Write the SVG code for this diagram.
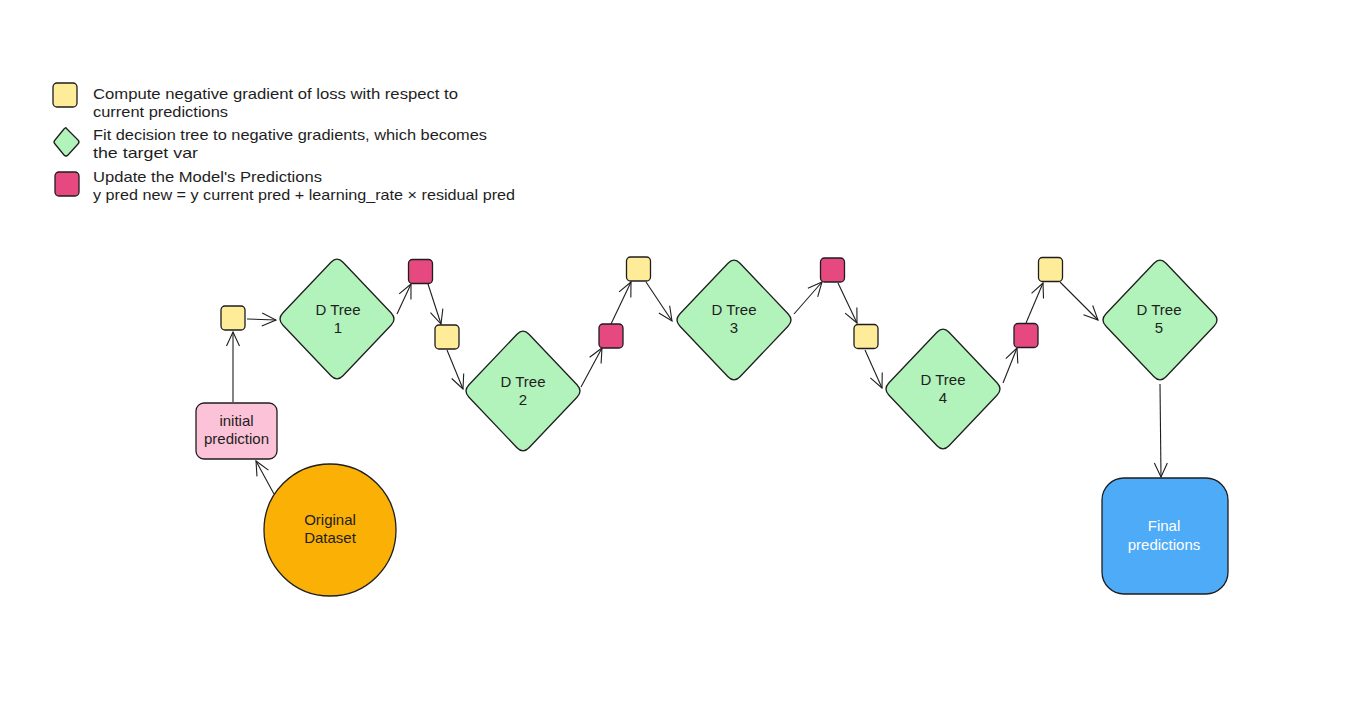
<svg xmlns="http://www.w3.org/2000/svg" xmlns:xlink="http://www.w3.org/1999/xlink" width="1358" height="721" viewBox="0 0 1358 721">
<style>
  text { font-family: "Liberation Sans", "DejaVu Sans", sans-serif; fill: #1e1e1e; }
  .legend { font-size: 15px; }
  .lbl { font-size: 15px; text-anchor: middle; }
  .white { fill: #ffffff; }
  .outline { stroke: #1e1e1e; stroke-width: 1.3; stroke-linejoin: round; }
  .yellow { fill: #ffec99; }
  .green { fill: #b2f2bb; }
  .pink { fill: #e64980; }
  .lightpink { fill: #fcc2d7; }
  .orange { fill: #fab005; }
  .blue { fill: #4dabf7; }
  .conn line { stroke: #1e1e1e; stroke-width: 1.1; fill: none; marker-end: url(#arrow); }
</style>
<defs>
  <marker id="arrow" markerUnits="userSpaceOnUse" markerWidth="16" markerHeight="16" viewBox="0 0 16 16" refX="15" refY="8" orient="auto">
    <path d="M1,1.5 L15,8 L1,14.5" fill="none" stroke="#1e1e1e" stroke-width="1.1"/>
  </marker>
  <path id="diamond" d="M 6,-56.7 L 54,-6.3 Q 60,0 54,6.3 L 6,56.7 Q 0,63 -6,56.7 L -54,6.3 Q -60,0 -54,-6.3 L -6,-56.7 Q 0,-63 6,-56.7 Z"/>
  <rect id="sq" x="-12" y="-12" width="24" height="24" rx="4"/>
</defs>
<rect x="0" y="0" width="1358" height="721" fill="#ffffff"/>

<g id="legend">
  <use xlink:href="#sq" x="65" y="95" class="yellow outline"/>
  <text class="legend" x="93" y="99" textLength="365" lengthAdjust="spacingAndGlyphs">Compute negative gradient of loss with respect to</text>
  <text class="legend" x="93" y="117" textLength="135" lengthAdjust="spacingAndGlyphs">current predictions</text>
  <path class="green outline" d="M 66,128 L 78,140 Q 80,142 78,144 L 68,155 Q 66,157 64,155 L 55,144 Q 53,142 55,140 L 64,129 Q 66,127 66,128 Z"/>
  <text class="legend" x="93" y="140" textLength="394" lengthAdjust="spacingAndGlyphs">Fit decision tree to negative gradients, which becomes</text>
  <text class="legend" x="93" y="158" textLength="105" lengthAdjust="spacingAndGlyphs">the target var</text>
  <use xlink:href="#sq" x="67" y="184" class="pink outline"/>
  <text class="legend" x="93" y="182" textLength="229" lengthAdjust="spacingAndGlyphs">Update the Model's Predictions</text>
  <text class="legend" x="93" y="200" textLength="422" lengthAdjust="spacingAndGlyphs">y pred new = y current pred + learning_rate × residual pred</text>
</g>

<g class="conn" id="connectors">
  <line x1="274" y1="494" x2="256" y2="461"/>
  <line x1="233" y1="402" x2="233" y2="332"/>
  <line x1="247" y1="319" x2="276" y2="320"/>
  <line x1="397" y1="314" x2="411" y2="284"/>
  <line x1="428" y1="284" x2="441" y2="324"/>
  <line x1="447" y1="350" x2="463" y2="389"/>
  <line x1="581" y1="387" x2="602" y2="348"/>
  <line x1="611" y1="324" x2="631" y2="282"/>
  <line x1="646" y1="282" x2="672" y2="321"/>
  <line x1="794" y1="314" x2="822" y2="282"/>
  <line x1="838" y1="283" x2="857" y2="323"/>
  <line x1="865" y1="350" x2="882" y2="388"/>
  <line x1="1003" y1="383" x2="1017" y2="348"/>
  <line x1="1026" y1="323" x2="1043" y2="283"/>
  <line x1="1060" y1="282" x2="1098" y2="320"/>
  <line x1="1160" y1="384" x2="1161" y2="477"/>
</g>

<g id="original-dataset">
  <circle cx="330" cy="530" r="66" class="orange outline"/>
  <text class="lbl" x="330" y="525">Original</text>
  <text class="lbl" x="330" y="543">Dataset</text>
</g>

<g id="initial-prediction">
  <rect x="196" y="403" width="81" height="56" rx="8" class="lightpink outline"/>
  <text class="lbl" x="236.5" y="426">initial</text>
  <text class="lbl" x="236.5" y="444">prediction</text>
</g>

<g id="grad-1"><use xlink:href="#sq" x="233" y="318" class="yellow outline"/></g>
<g id="dtree-1">
  <use xlink:href="#diamond" x="337" y="319" class="green outline"/>
  <text class="lbl" x="338" y="315">D Tree</text>
  <text class="lbl" x="338" y="333">1</text>
</g>
<g id="update-1"><use xlink:href="#sq" x="420.5" y="271.5" class="pink outline"/></g>
<g id="grad-2"><use xlink:href="#sq" x="447" y="337" class="yellow outline"/></g>
<g id="dtree-2">
  <use xlink:href="#diamond" x="523" y="391" class="green outline"/>
  <text class="lbl" x="523" y="387">D Tree</text>
  <text class="lbl" x="523" y="405">2</text>
</g>
<g id="update-2"><use xlink:href="#sq" x="611" y="336" class="pink outline"/></g>
<g id="grad-3"><use xlink:href="#sq" x="638.5" y="269" class="yellow outline"/></g>
<g id="dtree-3">
  <use xlink:href="#diamond" x="734" y="320" class="green outline"/>
  <text class="lbl" x="734" y="315">D Tree</text>
  <text class="lbl" x="734" y="333">3</text>
</g>
<g id="update-3"><use xlink:href="#sq" x="832.5" y="270" class="pink outline"/></g>
<g id="grad-4"><use xlink:href="#sq" x="866" y="336.5" class="yellow outline"/></g>
<g id="dtree-4">
  <use xlink:href="#diamond" x="943" y="389" class="green outline"/>
  <text class="lbl" x="943" y="385">D Tree</text>
  <text class="lbl" x="943" y="403">4</text>
</g>
<g id="update-4"><use xlink:href="#sq" x="1026" y="335.5" class="pink outline"/></g>
<g id="grad-5"><use xlink:href="#sq" x="1050.5" y="269.5" class="yellow outline"/></g>
<g id="dtree-5">
  <use xlink:href="#diamond" x="1160" y="320" class="green outline"/>
  <text class="lbl" x="1159" y="315">D Tree</text>
  <text class="lbl" x="1159" y="333">5</text>
</g>

<g id="final-predictions">
  <rect x="1102" y="478" width="126" height="116" rx="22" class="blue outline"/>
  <text class="lbl white" x="1164" y="531">Final</text>
  <text class="lbl white" x="1164" y="550">predictions</text>
</g>
</svg>
